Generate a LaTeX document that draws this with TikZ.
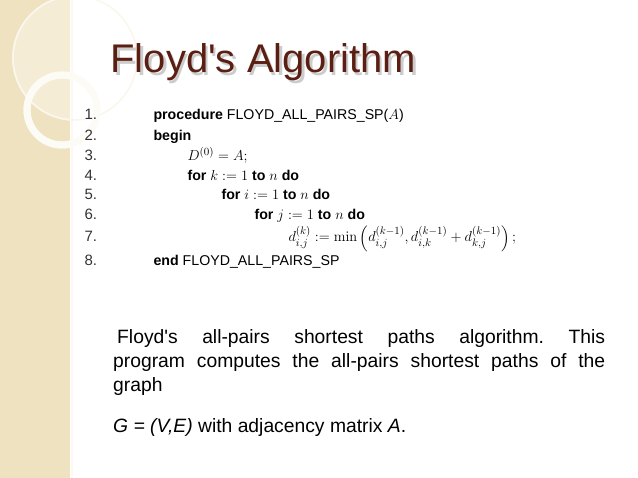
\documentclass[tikz,border=0pt]{standalone}
\usepackage{amsmath}
\usepackage[no-math]{fontspec}
\setmainfont{Liberation Sans}
\definecolor{band}{HTML}{EFE2C0}
\definecolor{titlec}{HTML}{5A1E12}
\tikzset{num/.style={anchor=base west,font=\fontsize{15}{18}\selectfont,text=black!80},
code/.style={anchor=base west,font=\fontsize{14.2}{18}\selectfont},
body/.style={anchor=north west,text width=492pt,align=justify,font=\fontsize{19.3}{24}\selectfont\frenchspacing,inner sep=0pt}}
\begin{document}
\begin{tikzpicture}[x=1pt,y=-1pt]
\useasboundingbox (0,0) rectangle (638,478);
\fill[band] (0,0) rectangle (70,478);
\draw[white!80!band,line width=1.5pt] (72,0) -- (72,478);
\begin{scope}
\clip (0,0) rectangle (70,478);
\fill[white,opacity=0.35] (75,58) circle (62);
\draw[white,line width=1.5pt] (75,58) circle (62);
\draw[white!80!band,line width=7pt] (62,110) circle (35);
\end{scope}
\draw[white!70!band,line width=1.5pt] (75,58) circle (62);
\draw[white!85!band,line width=7pt] (62,110) circle (35);
\node[anchor=base west,font=\fontsize{40}{44}\selectfont,text=black!40,opacity=0.5] at (109.5,75.5) {Floyd\textquotesingle s Algorithm};
\node[anchor=base west,font=\fontsize{40}{44}\selectfont,text=titlec] (title) at (107,73) {Floyd\textquotesingle s Algorithm};
\foreach \n/\y in {1/120,2/141,3/161,4/181,5/200,6/220,7/242,8/266}
  \node[num] (n\n) at (81,\y) {\n.};
\node[code] (c1) at (150,120) {\textbf{procedure} FLOYD\_ALL\_PAIRS\_SP($A$)};
\node[code] (c2) at (150,141) {\textbf{begin}};
\node[code,font=\fontsize{15.5}{18}\selectfont] (c3) at (184,161) {$D^{(0)} = A;$};
\node[code] (c4) at (184,181) {\textbf{for} $k := 1$ \textbf{to} $n$ \textbf{do}};
\node[code] (c5) at (218,200) {\textbf{for} $i := 1$ \textbf{to} $n$ \textbf{do}};
\node[code] (c6) at (251,220) {\textbf{for} $j := 1$ \textbf{to} $n$ \textbf{do}};
\node[code,font=\fontsize{15.5}{18}\selectfont] (c7) at (285,242) {$d^{(k)}_{i,j} := \min\left(d^{(k-1)}_{i,j}, d^{(k-1)}_{i,k} + d^{(k-1)}_{k,j}\right);$};
\node[code] (c8) at (150,266) {\textbf{end} FLOYD\_ALL\_PAIRS\_SP};
\node[body] (b1) at (113,329) {\hspace*{4pt}Floyd\textquotesingle s all-pairs shortest paths algorithm. This\linebreak program computes the all-pairs shortest paths of the\linebreak graph};
\node[body,anchor=base west] (b2) at (113,433) {\textit{G = (V,E)} with adjacency matrix \textit{A}.};
\end{tikzpicture}
\end{document}
